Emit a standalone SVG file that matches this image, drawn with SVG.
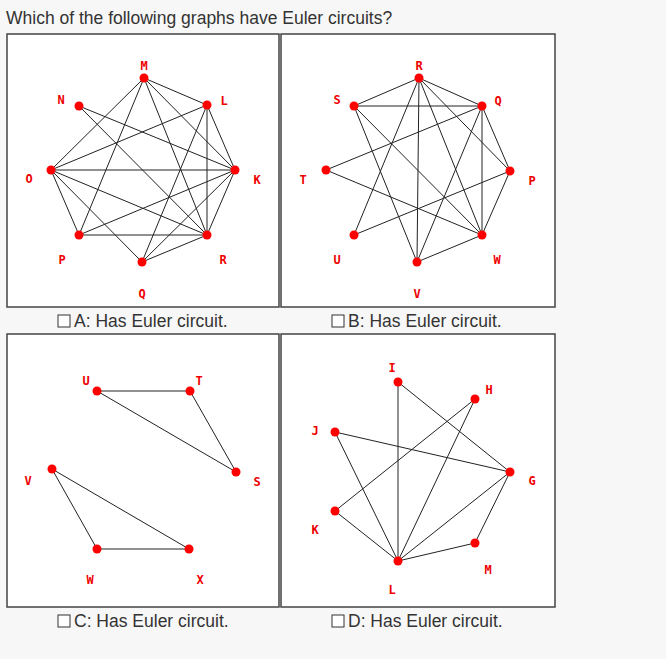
<svg xmlns="http://www.w3.org/2000/svg" width="666" height="659" viewBox="0 0 666 659">
<style>
.panel{fill:#fff;stroke:#444;stroke-width:1.5}
.e line{stroke:#222;stroke-width:1}
.n{fill:#f00}
.lb{fill:#e00;font-family:"DejaVu Sans Mono",monospace;font-weight:bold;font-size:12px;text-anchor:middle}
.t{font-family:"Liberation Sans",Arial,sans-serif;font-size:17.5px;fill:#333}
.cb{fill:#fff;stroke:#333;stroke-width:1}
</style>
<rect width="666" height="659" fill="#f7f7f7"/>
<text class="t" x="6" y="24">Which of the following graphs have Euler circuits?</text>
<rect class="panel" x="7" y="34" width="272" height="273"/>
<rect class="panel" x="281" y="34" width="274" height="273"/>
<rect class="panel" x="7" y="334" width="272" height="273"/>
<rect class="panel" x="281" y="334" width="274" height="273"/>
<g id="connectors" class="e">
<line x1="144" y1="78" x2="207" y2="105"/><line x1="144" y1="78" x2="235" y2="170"/><line x1="144" y1="78" x2="207" y2="235"/><line x1="144" y1="78" x2="51" y2="170"/><line x1="144" y1="78" x2="79" y2="235"/>
<line x1="79" y1="106" x2="235" y2="170"/><line x1="79" y1="106" x2="207" y2="235"/>
<line x1="207" y1="105" x2="51" y2="170"/><line x1="207" y1="105" x2="235" y2="170"/><line x1="207" y1="105" x2="207" y2="235"/><line x1="207" y1="105" x2="142" y2="262"/>
<line x1="51" y1="170" x2="235" y2="170"/><line x1="51" y1="170" x2="207" y2="235"/><line x1="51" y1="170" x2="79" y2="235"/><line x1="51" y1="170" x2="142" y2="262"/>
<line x1="235" y1="170" x2="79" y2="235"/><line x1="235" y1="170" x2="142" y2="262"/><line x1="235" y1="170" x2="207" y2="235"/>
<line x1="79" y1="235" x2="207" y2="235"/><line x1="142" y1="262" x2="207" y2="235"/>
<line x1="419" y1="78" x2="354" y2="106"/><line x1="419" y1="78" x2="482" y2="106"/><line x1="419" y1="78" x2="354" y2="235"/><line x1="419" y1="78" x2="417" y2="262"/><line x1="419" y1="78" x2="482" y2="235"/><line x1="419" y1="78" x2="510" y2="171"/>
<line x1="354" y1="106" x2="482" y2="106"/><line x1="354" y1="106" x2="417" y2="262"/><line x1="354" y1="106" x2="482" y2="235"/>
<line x1="482" y1="106" x2="326" y2="170"/><line x1="482" y1="106" x2="510" y2="171"/><line x1="482" y1="106" x2="482" y2="235"/><line x1="482" y1="106" x2="417" y2="262"/>
<line x1="326" y1="170" x2="482" y2="235"/><line x1="510" y1="171" x2="354" y2="235"/><line x1="510" y1="171" x2="482" y2="235"/><line x1="482" y1="235" x2="417" y2="262"/>
<line x1="97" y1="391" x2="190" y2="391"/><line x1="190" y1="391" x2="236" y2="472"/><line x1="97" y1="391" x2="236" y2="472"/>
<line x1="52" y1="469" x2="97" y2="549"/><line x1="97" y1="549" x2="189" y2="549"/><line x1="52" y1="469" x2="189" y2="549"/>
<line x1="398" y1="382" x2="398" y2="561"/><line x1="398" y1="382" x2="510" y2="472"/><line x1="475" y1="399" x2="335" y2="511"/><line x1="475" y1="399" x2="398" y2="561"/>
<line x1="335" y1="432" x2="510" y2="472"/><line x1="335" y1="432" x2="398" y2="561"/><line x1="335" y1="511" x2="398" y2="561"/><line x1="510" y1="472" x2="398" y2="561"/><line x1="510" y1="472" x2="475" y2="543"/><line x1="475" y1="543" x2="398" y2="561"/>
</g>
<g id="A-M"><circle class="n" cx="144" cy="78" r="4.5"/><text class="lb" x="144" y="70">M</text></g>
<g id="A-N"><circle class="n" cx="79" cy="106" r="4.5"/><text class="lb" x="61" y="104">N</text></g>
<g id="A-L"><circle class="n" cx="207" cy="105" r="4.5"/><text class="lb" x="224" y="105">L</text></g>
<g id="A-O"><circle class="n" cx="51" cy="170" r="4.5"/><text class="lb" x="29" y="183">O</text></g>
<g id="A-K"><circle class="n" cx="235" cy="170" r="4.5"/><text class="lb" x="257" y="184">K</text></g>
<g id="A-P"><circle class="n" cx="79" cy="235" r="4.5"/><text class="lb" x="62" y="264">P</text></g>
<g id="A-R"><circle class="n" cx="207" cy="235" r="4.5"/><text class="lb" x="223" y="264">R</text></g>
<g id="A-Q"><circle class="n" cx="142" cy="262" r="4.5"/><text class="lb" x="142" y="298">Q</text></g>
<g id="B-R"><circle class="n" cx="419" cy="78" r="4.5"/><text class="lb" x="419" y="70">R</text></g>
<g id="B-S"><circle class="n" cx="354" cy="106" r="4.5"/><text class="lb" x="337" y="104">S</text></g>
<g id="B-Q"><circle class="n" cx="482" cy="106" r="4.5"/><text class="lb" x="498" y="105">Q</text></g>
<g id="B-T"><circle class="n" cx="326" cy="170" r="4.5"/><text class="lb" x="303" y="184">T</text></g>
<g id="B-P"><circle class="n" cx="510" cy="171" r="4.5"/><text class="lb" x="532" y="185">P</text></g>
<g id="B-U"><circle class="n" cx="354" cy="235" r="4.5"/><text class="lb" x="337" y="264">U</text></g>
<g id="B-W"><circle class="n" cx="482" cy="235" r="4.5"/><text class="lb" x="497" y="264">W</text></g>
<g id="B-V"><circle class="n" cx="417" cy="262" r="4.5"/><text class="lb" x="417" y="298">V</text></g>
<g id="C-U"><circle class="n" cx="97" cy="391" r="4.5"/><text class="lb" x="86" y="385">U</text></g>
<g id="C-T"><circle class="n" cx="190" cy="391" r="4.5"/><text class="lb" x="199" y="385">T</text></g>
<g id="C-S"><circle class="n" cx="236" cy="472" r="4.5"/><text class="lb" x="257" y="486">S</text></g>
<g id="C-V"><circle class="n" cx="52" cy="469" r="4.5"/><text class="lb" x="28" y="485">V</text></g>
<g id="C-W"><circle class="n" cx="97" cy="549" r="4.5"/><text class="lb" x="90" y="584">W</text></g>
<g id="C-X"><circle class="n" cx="189" cy="549" r="4.5"/><text class="lb" x="200" y="584">X</text></g>
<g id="D-I"><circle class="n" cx="398" cy="382" r="4.5"/><text class="lb" x="392" y="372">I</text></g>
<g id="D-H"><circle class="n" cx="475" cy="399" r="4.5"/><text class="lb" x="489" y="394">H</text></g>
<g id="D-J"><circle class="n" cx="335" cy="432" r="4.5"/><text class="lb" x="315" y="435">J</text></g>
<g id="D-G"><circle class="n" cx="510" cy="472" r="4.5"/><text class="lb" x="532" y="485">G</text></g>
<g id="D-K"><circle class="n" cx="335" cy="511" r="4.5"/><text class="lb" x="315" y="534">K</text></g>
<g id="D-M"><circle class="n" cx="475" cy="543" r="4.5"/><text class="lb" x="488" y="574">M</text></g>
<g id="D-L"><circle class="n" cx="398" cy="561" r="4.5"/><text class="lb" x="392" y="594">L</text></g>
<rect class="cb" x="58" y="315" width="12" height="12"/><text class="t" x="74" y="327">A: Has Euler circuit.</text>
<rect class="cb" x="332" y="315" width="12" height="12"/><text class="t" x="348" y="327">B: Has Euler circuit.</text>
<rect class="cb" x="58" y="615" width="12" height="12"/><text class="t" x="74" y="627">C: Has Euler circuit.</text>
<rect class="cb" x="332" y="615" width="12" height="12"/><text class="t" x="348" y="627">D: Has Euler circuit.</text>
</svg>
